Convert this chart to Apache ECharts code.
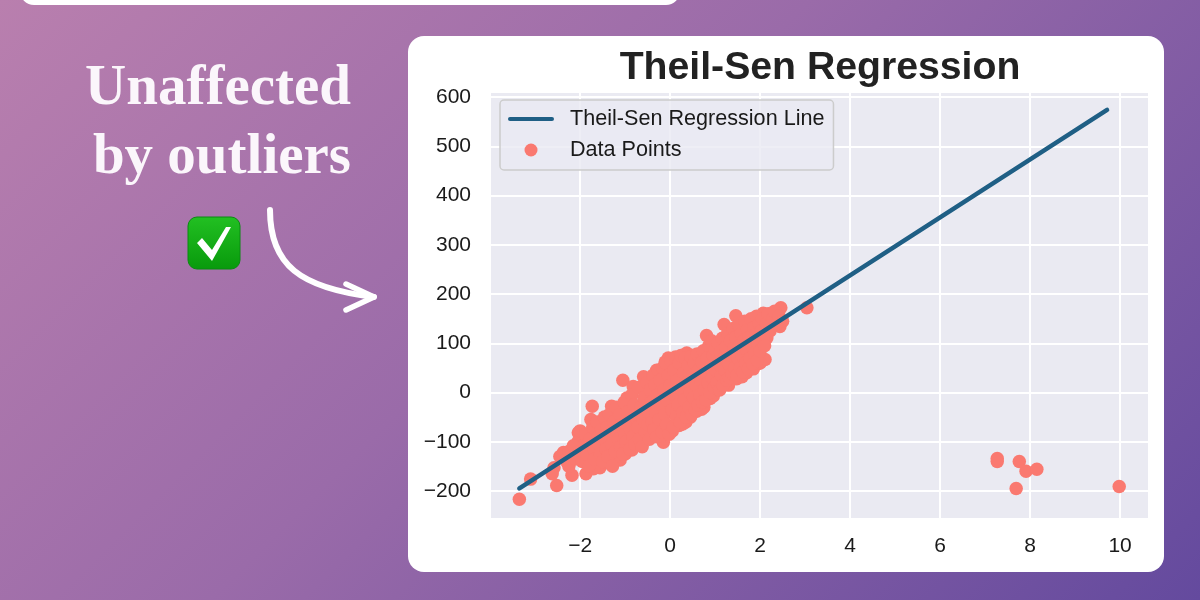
<!DOCTYPE html>
<html><head><meta charset="utf-8">
<style>html,body{margin:0;padding:0;width:1200px;height:600px;overflow:hidden}#c{width:1200px;height:600px}</style>
<script src="https://cdn.jsdelivr.net/npm/echarts@6/dist/echarts.min.js"></script>
</head><body><div id="c"></div>
<script>
const xTicks = [-2,0,2,4,6,8,10];
const yTicks = [-200,-100,0,100,200,300,400,500,600];
const lineX = [-3.35, 9.71];
const lineY = [-195, 574];
const outliers = [[7.27,-140],[7.27,-134],[7.69,-195],[7.76,-140],[7.91,-160],[8.15,-156],[9.98,-191]];
const edgePoints = [[-3.35,-217],[-3.10,-176],[-2.52,-189],[-2.58,-153],[-2.62,-165],[-2.37,-122],[-2.45,-130],[-2.18,-168],[-1.87,-165],[-1.56,-153],[-1.11,-137],[-0.85,-117],[-0.15,-101],[-0.41,-85],[0.20,-67],[0.70,-34],[0.96,-7],[1.56,36],[1.96,59],[2.11,67],[2.15,111],[2.44,134],[3.04,172],[2.46,172],[2.07,161],[1.89,152],[1.46,156],[1.20,138],[0.81,116],[0.37,80],[-0.04,70],[-0.59,32],[-1.05,25],[-0.96,-11],[-1.30,-28],[-1.73,-28],[-1.76,-55],[-2.04,-82],[-2.04,-99]];
const edgeExtra = [[-1.41,-142],[-0.67,-95],[0.22,-55],[0.59,-38],[0.89,-12],[1.11,8],[1.48,28],[1.70,40],[-0.82,12],[-0.3,45],[-0.11,62],[0.15,70],[0.51,75],[0.81,78],[1.11,96],[1.48,122],[1.93,150],[-1.41,-52],[-2,-78],[-1.64,-62],[0.35,-60],[0.45,-50],[0.75,-30],[1.3,15],[1.6,32],[1.85,48],[-0.2,-88],[-0.6,-92],[-1.0,-125],[-1.25,-135],[-1.7,-155],[-0.5,-85],[0.05,-78],[0.28,-64],[2.0,60],[1.75,55],[1.25,25],[-2.25,-120],[-2.15,-108]];
const bandA = [[-2.3,-140],[-2.25,-150],[-2.1,-135],[-2.0,-120],[-1.95,-140],[-1.9,-105],[-1.88,-85],[-1.85,-125],[-1.8,-150],[-1.78,-95],[-1.72,-70],[-1.7,-115],[-1.68,-135],[-1.62,-60],[-1.6,-90],[-1.58,-105],[-1.55,-125],[-1.52,-75],[-1.5,-140],[-1.46,-50],[-1.44,-95],[-1.42,-115],[-1.4,-70],[-1.38,-130],[-1.35,-45],[-1.32,-85],[-1.3,-105],[-1.28,-150],[-1.25,-60],[-1.22,-120],[-1.2,-30],[-1.18,-80],[-1.15,-95],[-1.12,-45],[-1.1,-110],[-1.08,-65],[-1.05,-125],[-1.02,-20],[-1.0,-85],[-0.98,-100],[-0.95,-40],[-0.92,-60],[-0.9,-115],[-0.88,-75],[-0.85,-5],[-0.82,-90],[-0.8,-25],[-0.78,-105],[-0.76,-50],[-0.72,-70],[-0.7,10],[-0.68,-95],[-0.65,-30],[-0.62,-110],[-0.6,-55],[-0.58,-10],[-0.55,-80],[-0.52,20],[-0.5,-65],[-0.48,-40],[-0.46,-95],[-0.44,5],[-0.42,-20]];
const bandB = [[-0.4,-60],[-0.38,35],[-0.36,-75],[-0.34,15],[-0.32,-40],[-0.3,-90],[-0.28,-5],[-0.26,45],[-0.24,-55],[-0.22,25],[-0.2,-25],[-0.18,-80],[-0.16,50],[-0.14,5],[-0.12,-45],[-0.1,60],[-0.08,-65],[-0.06,-15],[-0.04,35],[-0.02,-85],[0,15],[0.02,65],[0.04,-35],[0.06,-70],[0.08,45],[0.1,-5],[0.12,72],[0.14,-50],[0.16,25],[0.18,-25],[0.2,60],[0.22,-60],[0.24,75],[0.26,5],[0.28,-40],[0.3,40],[0.32,-15],[0.34,70],[0.36,-50],[0.38,20],[0.4,55],[0.42,-30],[0.44,0],[0.46,72],[0.48,-45],[0.5,35],[0.52,-10],[0.54,60],[0.56,-35],[0.58,15],[0.6,78],[0.62,-25],[0.64,45],[0.66,-5],[0.68,25],[0.7,62],[0.72,-20],[0.74,85],[0.76,5],[0.78,40],[0.8,-15],[0.82,70],[0.84,20],[0.86,95],[0.88,0],[0.9,50],[0.92,105],[0.94,30],[0.96,75],[0.98,10],[1.0,88]];
const bandC = [[1.02,45],[1.04,20],[1.06,100],[1.08,60],[1.1,5],[1.12,82],[1.14,35],[1.16,110],[1.18,15],[1.2,70],[1.22,45],[1.24,92],[1.26,25],[1.28,120],[1.3,58],[1.32,30],[1.34,105],[1.36,75],[1.38,38],[1.4,130],[1.42,90],[1.44,50],[1.46,112],[1.48,35],[1.5,70],[1.52,138],[1.54,95],[1.56,50],[1.58,120],[1.6,75],[1.62,42],[1.64,105],[1.66,145],[1.68,60],[1.7,88],[1.72,128],[1.74,48],[1.76,112],[1.78,70],[1.8,150],[1.82,95],[1.84,58],[1.86,132],[1.88,80],[1.9,118],[1.92,155],[1.94,65],[1.96,100],[1.98,140],[2.0,85],[2.02,125],[2.05,150],[2.08,105],[2.1,95],[2.14,140],[2.18,160],[2.22,125],[2.28,150],[2.32,165],[2.38,140],[2.42,155],[2.5,145]];
const points = edgePoints.concat(edgeExtra, bandA, bandB, bandC, outliers);

const chart = echarts.init(document.getElementById('c'), null, {renderer:'canvas', width:1200, height:600});
const sans = '"Liberation Sans", Arial, sans-serif';
const serif = '"Liberation Serif", serif';
const tickFmt = v => String(v).replace('-','\u2212');
chart.setOption({
  animation:false,
  title:{text:'Theil-Sen Regression',left:815,top:44,textAlign:'center',textStyle:{fontFamily:sans,fontSize:39.2,fontWeight:'bold',color:'#222222'}},
  legend:{left:500,top:100,orient:'vertical',itemWidth:46,itemHeight:13,itemGap:9,padding:[8,9,9,8],
    backgroundColor:'rgba(234,234,242,0.8)',borderColor:'#cccccc',borderWidth:1.5,borderRadius:4,
    textStyle:{fontFamily:sans,fontSize:21.6,color:'#1a1a1a',padding:[0,0,0,11]},align:'left',
    data:[{name:'Theil-Sen Regression Line',icon:'path://M2 0H44A2 2 0 0 1 44 4H2A2 2 0 0 1 2 0Z',itemStyle:{color:'#1f5f85'}},{name:'Data Points',icon:'circle',itemStyle:{color:'#fa7970'}}]},
  grid:{left:491,top:93,width:657,height:425,show:true,backgroundColor:'#eaeaf2',borderWidth:0,containLabel:false},
  xAxis:{type:'value',min:-3.98,max:10.62,
    axisLine:{show:false},
    axisTick:{show:false,customValues:xTicks},
    splitLine:{show:true,lineStyle:{color:'#ffffff',width:2}},
    axisLabel:{customValues:xTicks,margin:18,fontFamily:sans,fontSize:21,color:'#1a1a1a',formatter:tickFmt}},
  yAxis:{type:'value',min:-255,max:608.5,
    axisLine:{show:false},
    axisTick:{show:false,customValues:yTicks},
    splitLine:{show:true,lineStyle:{color:'#ffffff',width:2}},
    axisLabel:{customValues:yTicks,margin:20,padding:[2,0,0,0],fontFamily:sans,fontSize:21,color:'#1a1a1a',formatter:tickFmt}},
  series:[
    {name:'Theil-Sen Regression Line',type:'line',data:lineX.map((x,i)=>[x,lineY[i]]),showSymbol:false,symbol:'none',z:5,lineStyle:{color:'#1f5f85',width:4.5,cap:'round'},itemStyle:{color:'#1f5f85'}},
    {name:'Data Points',type:'scatter',data:points,symbolSize:13.5,z:3,itemStyle:{color:'#fa7970',opacity:1}}
  ],
  graphic:[
    {type:'rect',z:-20,shape:{x:0,y:0,width:1200,height:600},style:{fill:new echarts.graphic.LinearGradient(0,0,900,900,[{offset:0,color:'#b97fae'},{offset:0.45,color:'#9a6ba9'},{offset:1,color:'#644a9e'}],true)}},
    {type:'rect',z:-10,shape:{x:408,y:36,width:756,height:536,r:16},style:{fill:'#ffffff'}},
    {type:'rect',z:-10,shape:{x:20,y:-30,width:660,height:35,r:14},style:{fill:'#ffffff'}},
    {type:'text',z:5,style:{x:351,y:89,text:'Unaffected',align:'right',verticalAlign:'middle',font:'bold 57px '+serif,fill:'#fbf6fb'}},
    {type:'text',z:5,style:{x:351,y:158,text:'by outliers',align:'right',verticalAlign:'middle',font:'bold 57px '+serif,fill:'#fbf6fb'}},
    {type:'rect',z:5,shape:{x:188,y:217,width:52,height:52,r:9},style:{fill:new echarts.graphic.LinearGradient(0,0,0,1,[{offset:0,color:'#22c022'},{offset:1,color:'#089a0c'}]),stroke:'#0b8a12',lineWidth:1}},
    {type:'polygon',z:6,shape:{points:[[197,243],[202,238],[212,250],[226,227],[231,227],[212,261]]},style:{fill:'#ffffff'}},
    {type:'bezierCurve',z:6,shape:{x1:270,y1:210,cpx1:270,cpy1:265,cpx2:300,cpy2:288,x2:374,y2:297},style:{fill:'none',stroke:'#ffffff',lineWidth:6,lineCap:'round'}},
    {type:'polyline',z:6,shape:{points:[[346,284],[374,297],[346,310]]},style:{fill:'none',stroke:'#ffffff',lineWidth:5.5,lineCap:'round',lineJoin:'round'}}
  ]
});
</script></body></html>
